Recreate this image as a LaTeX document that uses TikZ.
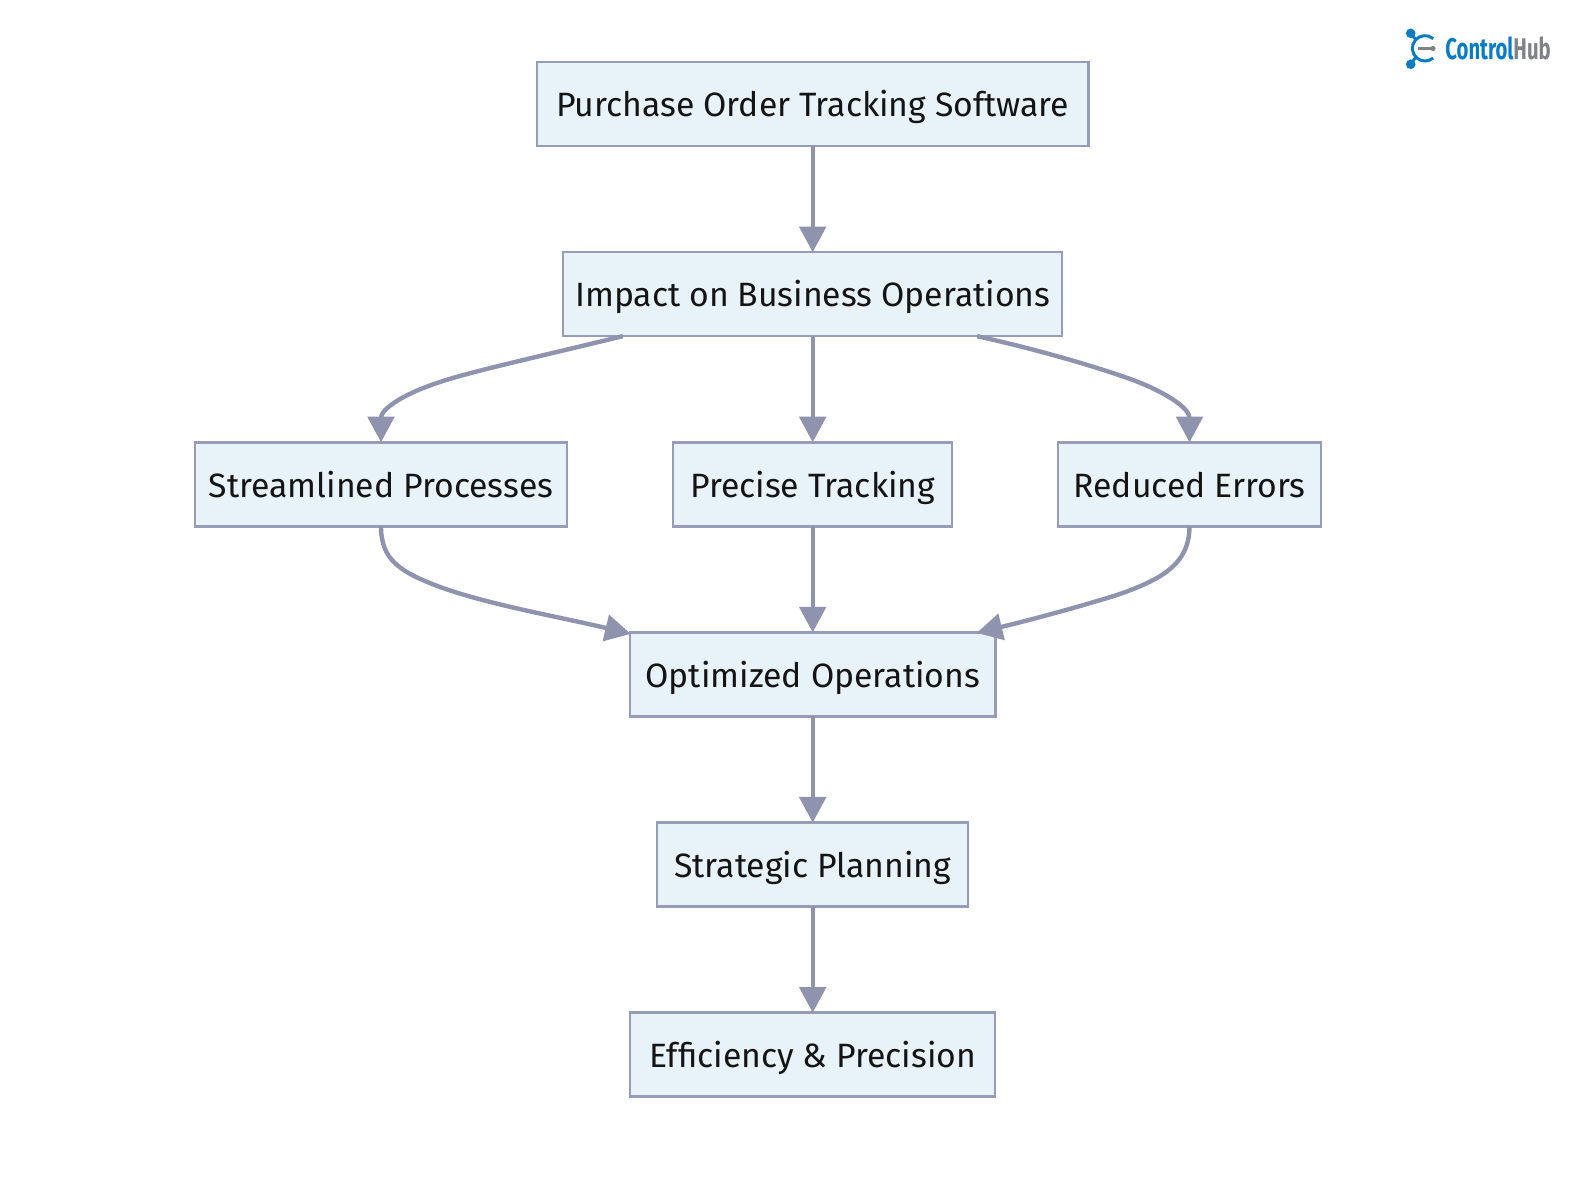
\documentclass[tikz,border=0pt]{standalone}
\usepackage{fontspec}
\setmainfont{Fira Sans}
\usetikzlibrary{calc, arrows.meta}

\definecolor{boxfill}{HTML}{E8F2F9}
\definecolor{boxline}{HTML}{979CB8}
\definecolor{edgeline}{HTML}{8F93AE}
\definecolor{logoblue}{HTML}{0A7CC4}
\definecolor{logogray}{HTML}{808285}

\tikzset{
    flowbox/.style={draw=boxline, fill=boxfill, line width=1.4pt, minimum height=1.68cm, inner sep=0pt, outer sep=0pt, text height=0.6cm, text depth=0.092cm, text=black!92, font=\fontsize{19.2}{23}\selectfont},
    flowline/.style={edgeline, line width=2.5pt, -{Triangle[length=14.6pt, width=15pt]}}
}

\begin{document}
\begin{tikzpicture}[x=0.02cm, y=-0.02cm]
    \useasboundingbox (0, 0) rectangle (1583, 1193);

    \node[flowbox, minimum width=11.04cm] (software) at (812.7, 104) {Purchase Order Tracking Software};
    \node[flowbox, minimum width=9.98cm] (impact) at (812.7, 294.2) {Impact on Business Operations};
    \node[flowbox, minimum width=7.44cm] (streamlined) at (381, 484.3) {Streamlined Processes};
    \node[flowbox, minimum width=5.58cm] (tracking) at (812.7, 484.3) {Precise Tracking};
    \node[flowbox, minimum width=5.26cm] (errors) at (1189.5, 484.3) {Reduced Errors};
    \node[flowbox, minimum width=7.32cm] (optimized) at (812.7, 674.4) {Optimized Operations};
    \node[flowbox, minimum width=6.22cm] (planning) at (812.7, 864.6) {Strategic Planning};
    \node[flowbox, minimum width=7.30cm] (efficiency) at (812.7, 1054.7) {Efficiency \& Precision};

    \draw[flowline] (software) -- (impact);
    \draw[flowline] (impact) -- (tracking);
    \draw[flowline] (tracking) -- (optimized);
    \draw[flowline] (optimized) -- (planning);
    \draw[flowline] (planning) -- (efficiency);

    \draw[flowline] ($(impact.south west)+(59.5, 0)$) .. controls (520, 361) and (470, 372) .. (440, 382)
        .. controls (400, 395) and (381, 410) .. (streamlined.north);
    \draw[flowline] ($(impact.south east)+(-85, 0)$) .. controls (1040, 350) and (1100, 368) .. (1133, 380)
        .. controls (1165, 392) and (1189.5, 408) .. (errors.north);
    \draw[flowline] (streamlined.south) .. controls (381, 560) and (400, 572) .. (440, 587)
        .. controls (490, 605) and (560, 617) .. ($(optimized.north west)+(1, 1.5)$);
    \draw[flowline] (errors.south) .. controls (1189.5, 565) and (1160, 580) .. (1117, 595)
        .. controls (1075, 608) and (1030, 620) .. ($(optimized.north east)+(-19, 0.5)$);

    % logo
    \draw[logoblue, line width=1.7pt] (1433.2, 38.6) arc [start angle=50, end angle=310, radius=0.254cm];
    \draw[logoblue, line width=1.7pt] (1410.7, 33.3) -- (1416.5, 40.5);
    \draw[logoblue, line width=1.7pt] (1410.7, 64.3) -- (1416.5, 56);
    \fill[logoblue] (1410.7, 33.3) circle (4.8);
    \fill[logoblue] (1410.7, 64.3) circle (4.8);
    \draw[logogray, line width=1.3pt] (1418, 48.5) -- (1433, 48.5);
    \fill[logogray] (1433, 48.5) circle (2.6);
    \node[anchor=west, inner sep=0pt, font=\fontsize{17}{20}\selectfont\bfseries] (logotext) at (1445, 48.5)
        {\scalebox{0.68}[1]{\textcolor{logoblue}{Control}\textcolor{logogray}{Hub}}};
\end{tikzpicture}
\end{document}
